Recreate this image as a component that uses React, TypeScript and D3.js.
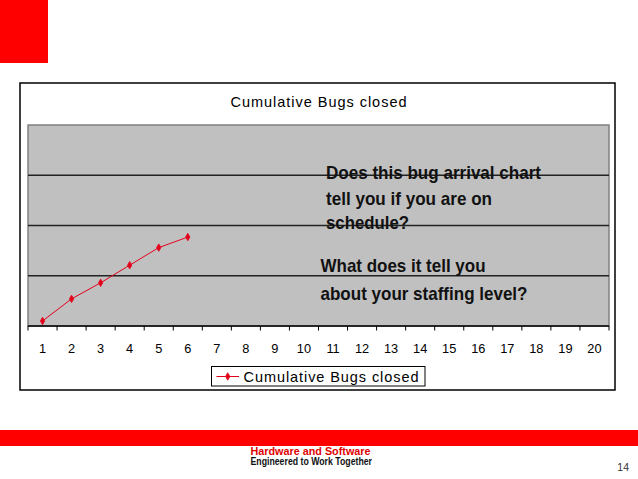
import React from "react";
import * as d3 from "d3";

const categories: string[] = Array.from({ length: 20 }, (_, i) => String(i + 1));
const seriesName = "Cumulative Bugs closed";
const bugsClosed: number[] = [10, 54, 86, 121, 156, 177];
const yGridValues: number[] = [100, 200, 300];
const yMax = 400;
const chartTitle = "Cumulative Bugs closed";
const noteLines1: string[] = ["Does this bug arrival chart", "tell you if you are on", "schedule?"];
const noteLines2: string[] = ["What does it tell you", "about your staffing level?"];

export default function App() {
  const W = 638, H = 479;
  const plot = { left: 28, right: 609, top: 125, bottom: 326 };
  const x = d3.scaleBand<string>().domain(categories).range([plot.left, plot.right]).paddingInner(0).paddingOuter(0);
  const y = d3.scaleLinear().domain([0, yMax]).range([plot.bottom, plot.top]);
  const line = d3.line<number>()
    .x((_, i) => (x(categories[i]) as number) + x.bandwidth() / 2)
    .y((d) => y(d));
  const diamond = d3.symbol().type(d3.symbolDiamond).size(16)() as string;
  const tickXs = categories.map((c) => x(c) as number).concat([plot.right]);
  const sans = "Arial, 'Liberation Sans', sans-serif";
  const narrow = "'Liberation Sans Narrow', 'Arial Narrow', 'Liberation Sans', Arial, sans-serif";
  const note1Y = [178.5, 205, 228.5];
  const note1W = [215, 166, 83];
  const note2Y = [272, 299.5];
  const note2W = [165, 207];
  const red = "#e3001b";

  return (
    <svg width={W} height={H} style={{ position: "absolute", left: 0, top: 0, background: "#fff" }}>
      <rect x={0} y={0} width={W} height={H} fill="#fff" />
      {/* red corner square */}
      <rect x={0} y={0} width={48} height={63} fill="#ff0000" />

      {/* chart box */}
      <rect x={20} y={83} width={595} height={307} fill="#fff" stroke="#000" strokeWidth={1.5} />
      <text x={318.5} y={107} textAnchor="middle" fontFamily={sans} fontSize={14.5} fill="#000"
        textLength={176} lengthAdjust="spacing">{chartTitle}</text>

      {/* plot area */}
      <rect x={plot.left} y={plot.top} width={plot.right - plot.left} height={plot.bottom - plot.top}
        fill="#c0c0c0" stroke="#808080" strokeWidth={1.5} />
      {yGridValues.map((v) => (
        <line key={v} x1={plot.left} x2={plot.right} y1={y(v)} y2={y(v)} stroke="#222" strokeWidth={1.3} />
      ))}
      <line x1={plot.left} x2={plot.right} y1={plot.bottom} y2={plot.bottom} stroke="#000" strokeWidth={1.3} />
      {tickXs.map((tx, i) => (
        <line key={i} x1={tx} x2={tx} y1={plot.bottom} y2={plot.bottom + 4.5} stroke="#000" strokeWidth={1} />
      ))}
      {categories.map((c) => (
        <text key={c} x={(x(c) as number) + x.bandwidth() / 2} y={353.3} textAnchor="middle"
          fontFamily={sans} fontSize={12.8} fill="#000">{c}</text>
      ))}

      {/* series */}
      <path d={line(bugsClosed) as string} fill="none" stroke={red} strokeWidth={1} />
      {bugsClosed.map((v, i) => (
        <path key={i} d={diamond}
          transform={`translate(${(x(categories[i]) as number) + x.bandwidth() / 2},${y(v)})`}
          fill={red} stroke={red} strokeWidth={0.8} />
      ))}

      {/* annotations */}
      {noteLines1.map((t, i) => (
        <text key={t} x={326} y={note1Y[i]} fontFamily={narrow} fontWeight="bold" fontSize={19} fill="#111"
          textLength={note1W[i]} lengthAdjust="spacingAndGlyphs">{t}</text>
      ))}
      {noteLines2.map((t, i) => (
        <text key={t} x={320.5} y={note2Y[i]} fontFamily={narrow} fontWeight="bold" fontSize={19} fill="#111"
          textLength={note2W[i]} lengthAdjust="spacingAndGlyphs">{t}</text>
      ))}

      {/* legend */}
      <rect x={211.5} y={366.5} width={213.5} height={19.5} fill="#fff" stroke="#000" strokeWidth={1} />
      <line x1={216.5} x2={239} y1={376.5} y2={376.5} stroke={red} strokeWidth={1} />
      <path d={diamond} transform="translate(227.7,376.5)" fill={red} stroke={red} strokeWidth={0.8} />
      <text x={243.5} y={381.8} fontFamily={sans} fontSize={14.5} fill="#000"
        textLength={175} lengthAdjust="spacing">{seriesName}</text>

      {/* footer */}
      <rect x={0} y={430} width={W} height={16} fill="#ff0000" />
      <text x={250.5} y={454.5} fontFamily={narrow} fontWeight="bold" fontSize={11} fill="#e00000"
        textLength={120} lengthAdjust="spacingAndGlyphs">Hardware and Software</text>
      <text x={250.5} y={465} fontFamily={narrow} fontWeight="bold" fontSize={11} fill="#111"
        textLength={121.5} lengthAdjust="spacingAndGlyphs">Engineered to Work Together</text>
      <text x={629} y={471} textAnchor="end" fontFamily={sans} fontSize={10.5} fill="#333">14</text>
    </svg>
  );
}
